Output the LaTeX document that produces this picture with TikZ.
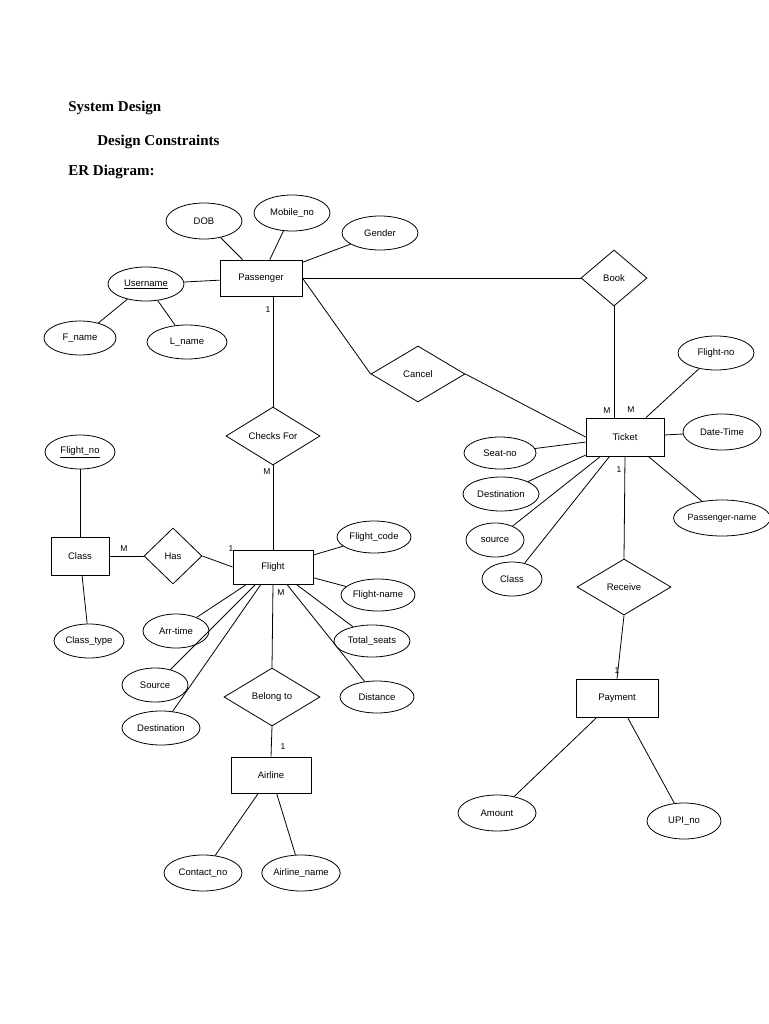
\documentclass[tikz,border=0pt]{standalone}
\usepackage{fontspec}
\setmainfont{Liberation Sans}
\newfontfamily\titlefont{Liberation Serif}
\usetikzlibrary{shapes.geometric}
\begin{document}
\begin{tikzpicture}[x=1pt,y=-1pt,line width=0.8pt,
 every node/.style={font=\fontsize{9.5}{11}\selectfont,inner sep=0pt},
 ent/.style={draw,rectangle,minimum width=#1,minimum height=36},
 rel/.style={draw,diamond,aspect=1.5,minimum width=#1,minimum height=56},
 att/.style={draw,ellipse,minimum width=#1,minimum height=34},
 lab/.style={font=\fontsize{8.5}{10}\selectfont},
 ttl/.style={font=\titlefont\bfseries\fontsize{15}{17}\selectfont,anchor=west}]
\useasboundingbox (0,0) rectangle (768,1024);
\node[ttl] (t1) at (68,108) {System Design};
\node[ttl] (t2) at (97,142) {Design Constraints};
\node[ttl] (t3) at (68,172) {ER Diagram:};
% entities
\node[ent=82] (pass) at (261,278) {Passenger};
\node[ent=78,minimum height=38] (tick) at (625,437) {Ticket};
\node[ent=58,minimum height=38] (class) at (80,556) {Class};
\node[ent=80,minimum height=34] (flight) at (273,567) {Flight};
\node[ent=80] (airline) at (271,775) {Airline};
\node[ent=82,minimum height=38] (pay) at (617,698) {Payment};
% relationships
\node[rel=66] (book) at (614,278) {Book};
\node[rel=94] (cancel) at (418,374) {Cancel};
\node[rel=94,minimum height=58] (checks) at (273,436) {Checks For};
\node[rel=58,aspect=1] (has) at (173,556) {Has};
\node[rel=96,minimum height=58] (belong) at (272,697) {Belong to};
\node[rel=94] (receive) at (624,587) {Receive};
% attributes
\node[att=76,minimum height=36] (dob) at (204,221) {DOB};
\node[att=76,minimum height=36] (mob) at (292,213) {Mobile\_no};
\node[att=76] (gender) at (380,233) {Gender};
\node[att=76] (user) at (146,284) {\underline{Username}};
\node[att=72] (fname) at (80,338) {F\_name};
\node[att=80] (lname) at (187,342) {L\_name};
\node[att=76] (fno) at (716,353) {Flight-no};
\node[att=78,minimum height=36] (dt) at (722,432) {Date-Time};
\node[att=82,minimum height=36,font=\fontsize{9}{11}\selectfont] (pname) at (722,518) {Passenger-name};
\node[att=72,minimum height=32] (seat) at (500,453) {Seat-no};
\node[att=76] (tdest) at (501,494) {Destination};
\node[att=58] (tsrc) at (495,540) {source};
\node[att=60] (tclass) at (512,579) {Class};
\node[att=70] (cfno) at (80,452) {\underline{Flight\_no}};
\node[att=70] (ctype) at (89,641) {Class\_type};
\node[att=74,minimum height=32] (fcode) at (374,537) {Flight\_code};
\node[att=74,minimum height=32] (fname2) at (378,595) {Flight-name};
\node[att=76,minimum height=32] (tseat) at (372,641) {Total\_seats};
\node[att=74,minimum height=32] (dist) at (377,697) {Distance};
\node[att=66] (arr) at (176,631) {Arr-time};
\node[att=66] (fsrc) at (155,685) {Source};
\node[att=78] (fdest) at (161,728) {Destination};
\node[att=78,minimum height=36] (amt) at (497,813) {Amount};
\node[att=74,minimum height=36] (upi) at (684,821) {UPI\_no};
\node[att=78,minimum height=36] (cno) at (203,873) {Contact\_no};
\node[att=78,minimum height=36] (aname) at (301,873) {Airline\_name};
% connectors
\draw (pass) -- (book.west);
\draw (book.south) -- (tick.north -| book.south);
\draw (pass.east) -- (cancel.west);
\draw (cancel.east) -- (tick.west);
\draw (pass.south -| checks.north) -- (checks.north);
\draw (checks.south) -- (flight.north);
\draw (class) -- (has.west);
\draw (has.east) -- (flight.west);
\draw (flight.south) -- (belong.north);
\draw (belong.south) -- (airline.north);
\draw (tick.south) -- (receive.north);
\draw (receive.south) -- (pay.north);
\foreach \a in {dob,mob,gender,user} \draw (pass) -- (\a);
\draw (user) -- (fname); \draw (user) -- (lname);
\foreach \a in {fno,dt,pname,seat,tdest,tsrc,tclass} \draw (tick) -- (\a);
\draw (class) -- (cfno); \draw (class) -- (ctype);
\foreach \a in {fcode,fname2,tseat,dist,arr,fsrc,fdest} \draw (flight) -- (\a);
\draw (pay) -- (amt); \draw (pay) -- (upi);
\draw (airline) -- (cno); \draw (airline) -- (aname);
% cardinalities
\node[lab] (c1) at (268,310) {1};
\node[lab] (c2) at (267,472) {M};
\node[lab] (c3) at (124,549) {M};
\node[lab] (c4) at (231,549) {1};
\node[lab] (c5) at (281,593) {M};
\node[lab] (c6) at (283,747) {1};
\node[lab] (c7) at (607,411) {M};
\node[lab] (c8) at (631,410) {M};
\node[lab] (c9) at (619,470) {1};
\node[lab] (c10) at (617,671) {1};
\end{tikzpicture}
\end{document}
